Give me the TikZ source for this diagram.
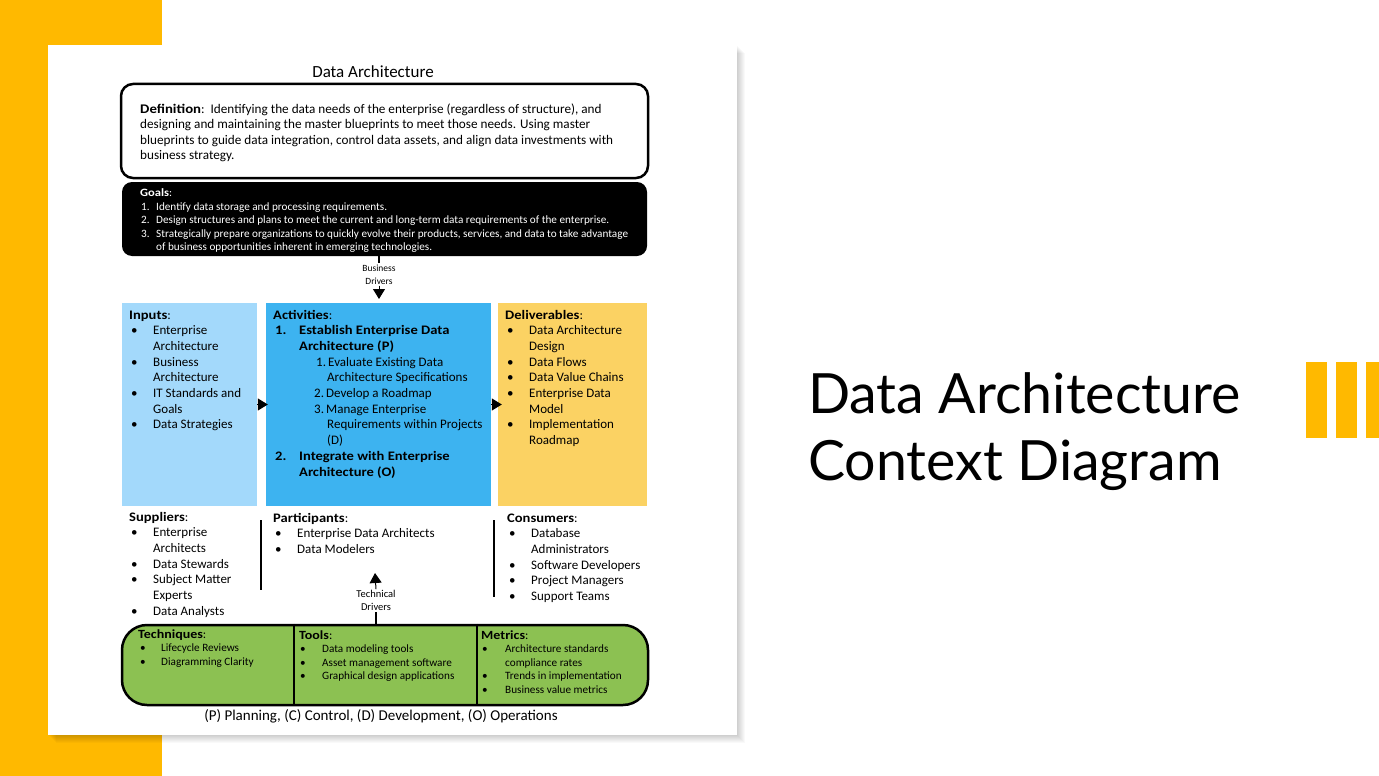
\documentclass[tikz,border=0pt]{standalone}
\usepackage{fontspec}
\usepackage{array}
\setmainfont{Carlito}[BoldFeatures={FakeStretch=1.12}]
\newfontfamily\ttlfont{Lato}
\usetikzlibrary{positioning,arrows.meta,calc}

\definecolor{brandyel}{HTML}{FFB900}
\definecolor{inblue}{HTML}{A3D9FB}
\definecolor{actblue}{HTML}{3DB3F0}
\definecolor{delyel}{HTML}{FBD263}
\definecolor{techgreen}{HTML}{8CC152}

\newcommand{\hd}[1]{\textbf{#1}:}
\newcommand{\bul}{\textbullet}

\tikzset{
  txt/.style={anchor=base west, inner sep=0pt},
  bigtxt/.style={txt, font=\fontsize{13}{15.7}\selectfont},
  smalltxt/.style={txt, font=\fontsize{11.2}{13.5}\selectfont},
  panel/.style={draw=none, inner sep=0pt, minimum height=203pt},
  tri/.style={-{Triangle[length=10pt,width=12pt]}, line width=1pt},
}

\begin{document}
\begin{tikzpicture}[x=1pt,y=-1pt]
  \useasboundingbox (0,0) rectangle (1379,776);
  \fill[white] (0,0) rectangle (1379,776);
  % slide decoration
  \fill[brandyel] (0,0) rectangle (162,776);
  \foreach \b in {1306,1336,1366}
    \fill[brandyel] (\b,362) rectangle ++(21,76);
  \foreach \s in {1,...,8}
    \fill[black,opacity=0.025] (48+\s,45+\s) rectangle (737+\s,735+\s);
  \fill[white] (48,45) rectangle (737,735);

  \node[txt, font=\ttlfont\fontsize{55.5}{67}\selectfont] (ttl1) at (808,413) {Data Architecture};
  \node[txt, font=\ttlfont\fontsize{55.5}{67}\selectfont] (ttl2) at (808,480) {Context Diagram};

  % diagram
  \node[font=\fontsize{17}{19}\selectfont] (dtitle) at (373,72) {Data Architecture};

  \node[draw, line width=2.5pt, rounded corners=12pt, minimum width=527pt, minimum height=94pt] (defn) at (384.5,131) {};
  \node[bigtxt, font=\fontsize{13.2}{15.6}\selectfont] (defntxt) at (140,113)
    {\begin{tabular}[t]{@{}l@{}}
     \hd{Definition}\ \ Identifying the data needs of the enterprise (regardless of structure), and\\
     designing and maintaining the master blueprints to meet those needs. Using master\\
     blueprints to guide data integration, control data assets, and align data investments with\\
     business strategy.
     \end{tabular}};

  \node[fill=black, rounded corners=10pt, minimum width=525pt, minimum height=74pt] (goals) at (384.5,219) {};
  \node[smalltxt, text=white] (goalstxt) at (140,196.5)
    {\begin{tabular}[t]{@{\hspace{1pt}}p{15pt}@{}l@{}}
     \multicolumn{2}{@{}l@{}}{\hd{Goals}}\\
     1. & Identify data storage and processing requirements.\\
     2. & Design structures and plans to meet the current and long-term data requirements of the enterprise.\\
     3. & Strategically prepare organizations to quickly evolve their products, services, and data to take advantage\\
        & of business opportunities inherent in emerging technologies.
     \end{tabular}};

  % three panels
  \node[panel, fill=inblue, minimum width=135pt] (inp) at (189.5,404.5) {};
  \node[panel, fill=actblue, minimum width=225pt] (act) at (378.5,404.5) {};
  \node[panel, fill=delyel, minimum width=149pt] (del) at (572.5,404.5) {};

  \node[bigtxt] (inptxt) at (129,319)
    {\begin{tabular}[t]{@{\hspace{2pt}}p{22pt}@{}l@{}}
     \multicolumn{2}{@{}l@{}}{\hd{Inputs}}\\
     \bul & Enterprise\\ & Architecture\\
     \bul & Business\\ & Architecture\\
     \bul & IT Standards and\\ & Goals\\
     \bul & Data Strategies
     \end{tabular}};

  \node[bigtxt] (acttxt) at (273,319)
    {\begin{tabular}[t]{@{\hspace{2pt}}p{24pt}@{}l@{}}
     \multicolumn{2}{@{}l@{}}{\hd{Activities}}\\
     \textbf{1.} & \textbf{Establish Enterprise Data}\\
                 & \textbf{Architecture (P)}\\
                 & \hspace{17pt}1.\,Evaluate Existing Data\\
                 & \hspace{28pt}Architecture Specifications\\
                 & \hspace{15pt}2.\,Develop a Roadmap\\
                 & \hspace{15pt}3.\,Manage Enterprise\\
                 & \hspace{28pt}Requirements within Projects\\
                 & \hspace{28pt}(D)\\
     \textbf{2.} & \textbf{Integrate with Enterprise}\\
                 & \textbf{Architecture (O)}
     \end{tabular}};

  \node[bigtxt] (deltxt) at (505,319)
    {\begin{tabular}[t]{@{\hspace{2pt}}p{22pt}@{}l@{}}
     \multicolumn{2}{@{}l@{}}{\hd{Deliverables}}\\
     \bul & Data Architecture\\ & Design\\
     \bul & Data Flows\\
     \bul & Data Value Chains\\
     \bul & Enterprise Data\\ & Model\\
     \bul & Implementation\\ & Roadmap
     \end{tabular}};

  % business drivers
  \node[font=\fontsize{9.5}{13}\selectfont, align=center, inner sep=1pt] (bizdrv) at (379,274.5) {Business\\Drivers};
  \draw[line width=2.5pt] (goals.south -| bizdrv) -- (bizdrv.north);
  \coordinate (bizend) at (379,299);
  \draw[tri] (bizdrv.south) -- (bizend);

  \draw[tri, shorten >=-2pt] (inp.east) -- (act.west);
  \draw[tri, shorten >=-4pt] (act.east) -- (del.west);

  % suppliers / participants / consumers
  \node[bigtxt] (suptxt) at (129,521)
    {\begin{tabular}[t]{@{\hspace{2pt}}p{22pt}@{}l@{}}
     \multicolumn{2}{@{}l@{}}{\hd{Suppliers}}\\
     \bul & Enterprise\\ & Architects\\
     \bul & Data Stewards\\
     \bul & Subject Matter\\ & Experts\\
     \bul & Data Analysts
     \end{tabular}};

  \node[bigtxt] (parttxt) at (273,522)
    {\begin{tabular}[t]{@{\hspace{2pt}}p{22pt}@{}l@{}}
     \multicolumn{2}{@{}l@{}}{\hd{Participants}}\\
     \bul & Enterprise Data Architects\\
     \bul & Data Modelers
     \end{tabular}};

  \node[bigtxt] (constxt) at (507,522)
    {\begin{tabular}[t]{@{\hspace{2pt}}p{22pt}@{}l@{}}
     \multicolumn{2}{@{}l@{}}{\hd{Consumers}}\\
     \bul & Database\\ & Administrators\\
     \bul & Software Developers\\
     \bul & Project Managers\\
     \bul & Support Teams
     \end{tabular}};

  \coordinate (sepA1) at (261,520); \coordinate (sepA2) at (261,590);
  \coordinate (sepB1) at (494,520); \coordinate (sepB2) at (494,597);
  \draw[line width=1.5pt] (sepA1) -- (sepA2);
  \draw[line width=1.5pt] (sepB1) -- (sepB2);

  % techniques / tools / metrics
  \node[draw, fill=techgreen, line width=2.5pt, rounded corners=25pt, minimum width=526pt, minimum height=80pt] (green) at (385,665) {};
  \draw[line width=2pt] (green.north -| 294,0) -- (green.south -| 294,0);
  \draw[line width=2pt] (green.north -| 477,0) -- (green.south -| 477,0);

  \node[font=\fontsize{10.5}{13}\selectfont, align=center, inner sep=1pt] (techdrv) at (376,600.5) {Technical\\Drivers};
  \draw[line width=2.5pt] (green.north -| techdrv) -- (techdrv.south);
  \coordinate (techend) at (375,573);
  \draw[tri] (techdrv.north) -- (techend);

  \node[smalltxt] (techtxt) at (138,638)
    {\begin{tabular}[t]{@{\hspace{2pt}}p{21pt}@{}l@{}}
     \multicolumn{2}{@{}l@{}}{\fontsize{12.5}{13.5}\selectfont\hd{Techniques}}\\
     \bul & Lifecycle Reviews\\
     \bul & Diagramming Clarity
     \end{tabular}};

  \node[smalltxt] (tooltxt) at (299,639)
    {\begin{tabular}[t]{@{\hspace{1pt}}p{22pt}@{}l@{}}
     \multicolumn{2}{@{}l@{}}{\fontsize{12.5}{13.5}\selectfont\hd{Tools}}\\
     \bul & Data modeling tools\\
     \bul & Asset management software\\
     \bul & Graphical design applications
     \end{tabular}};

  \node[smalltxt] (mettxt) at (481,639)
    {\begin{tabular}[t]{@{\hspace{1pt}}p{23pt}@{}l@{}}
     \multicolumn{2}{@{}l@{}}{\fontsize{12.5}{13.5}\selectfont\hd{Metrics}}\\
     \bul & Architecture standards\\ & compliance rates\\
     \bul & Trends in implementation\\
     \bul & Business value metrics
     \end{tabular}};

  \node[font=\fontsize{15}{17}\selectfont] (legend) at (381,716) {(P) Planning, (C) Control, (D) Development, (O) Operations};
\end{tikzpicture}
\end{document}
